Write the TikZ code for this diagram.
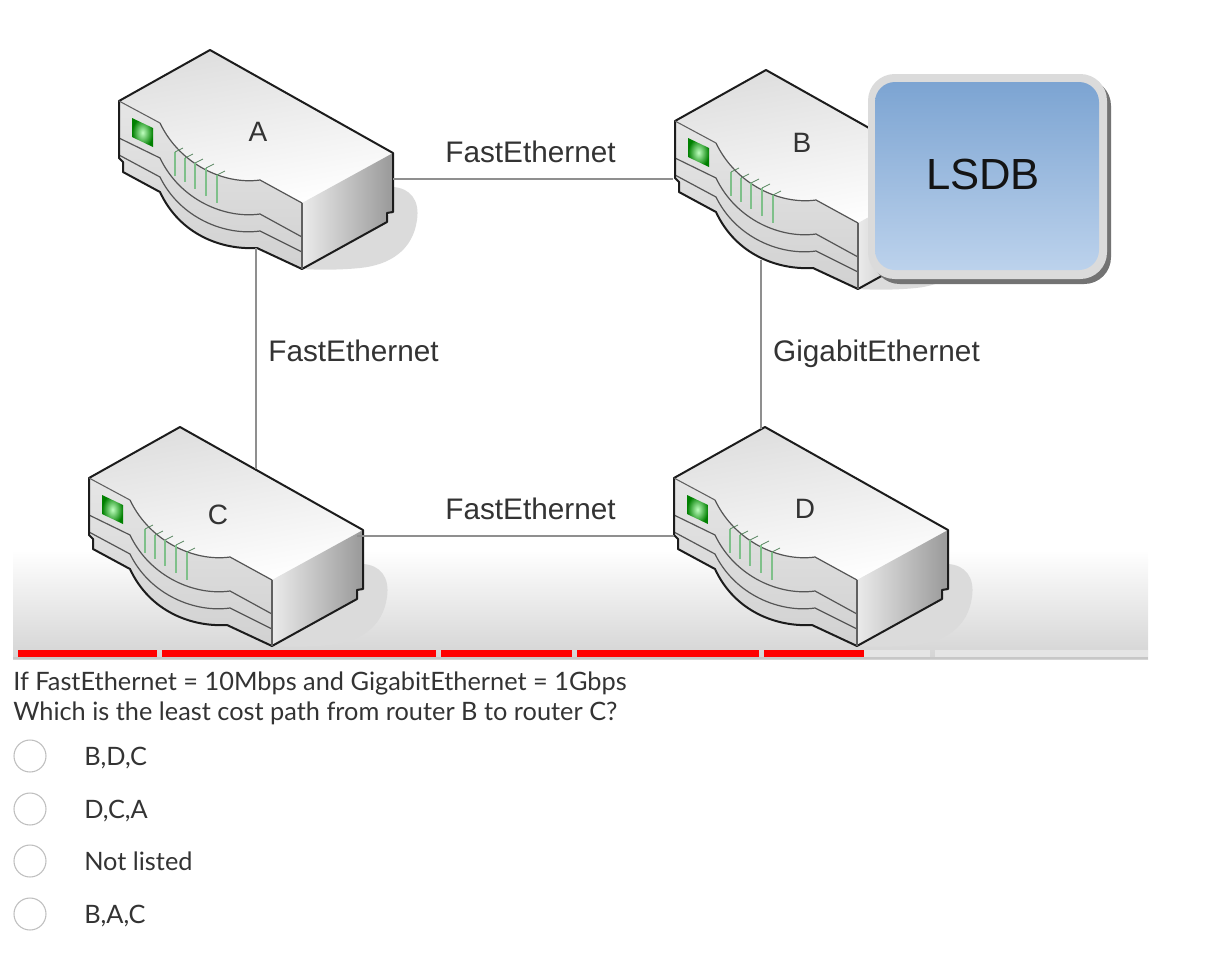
\documentclass[tikz,border=0pt]{standalone}
\usepackage{fontspec}
\setmainfont{Liberation Sans}
\newfontfamily\latofont{Lato}
\definecolor{edge}{HTML}{1C1C1C}
\definecolor{txt}{HTML}{333333}
\definecolor{wire}{HTML}{8F8F8F}
\definecolor{ledgreen}{HTML}{7FC08A}
\definecolor{lsdbtop}{HTML}{7CA4D2}
\definecolor{lsdbbot}{HTML}{BCD2EC}
\tikzset{
  x=0.75pt,y=-0.75pt,
  routeredge/.style={draw=edge,line width=1.5pt,line join=round},
  routerline/.style={draw=edge!75,line width=0.9pt},
  wireline/.style={draw=wire,line width=1pt},
  linklabel/.style={font=\fontsize{22.3}{26}\selectfont,text=black!80,inner sep=0pt,anchor=base},
  routerlabel/.style={font=\fontsize{21}{25}\selectfont,text=black!80,inner sep=0pt},
  question/.style={font=\latofont\fontsize{19}{24}\selectfont,text=txt,inner sep=0pt,anchor=base west},
  answer/.style={font=\latofont\fontsize{19}{24}\selectfont,text=txt,inner sep=0pt,anchor=base west},
  radiobtn/.style={circle,draw=black!25,fill=white,line width=0.8pt,minimum size=24pt,inner sep=0pt},
  barred/.style={fill=red,draw=none},
  bargrey/.style={fill=black!10,draw=none},
  router/.pic={
    % cast shadow
    \fill[black!14] (92,219) -- (183,162) -- (183,137)
       .. controls (200,138) and (210,150) .. (207,170)
       .. controls (203,200) and (180,215) .. (150,218)
       .. controls (130,220) and (110,220) .. (92,219) -- cycle;
    % top face
    \shade[top color=black!13,bottom color=white,shading angle=10]
       (0,0) -- (183,103) -- (92,153) -- (50,130)
       .. controls (15,135) and (-30,115) .. (-50,73) -- (-91,51) -- cycle;
    % front band
    \shade[top color=black!10,bottom color=black!18]
       (-91,51) -- (-50,73) .. controls (-30,115) and (15,135) .. (50,130)
       -- (92,153) -- (92,219) -- (47,198)
       .. controls (12,200) and (-30,185) .. (-50,142)
       -- (-87,122) -- (-87,112) -- (-91,108) -- cycle;
    % right face
    \shade[left color=black!8,right color=black!40]
       (92,153) -- (183,103) -- (183,162) -- (177,163) -- (177,172) -- (92,219) -- cycle;
    % band lines
    \draw[routerline] (-91,88) -- (-50,108) .. controls (-30,150) and (15,169) .. (50,164) -- (92,187);
    \draw[routerline] (-91,105) -- (-50,127) .. controls (-30,168) and (15,186) .. (50,181) -- (92,202);
    \draw[routerline] (-50,73) .. controls (-30,115) and (15,135) .. (50,130) -- (92,153);
    % led
    \shade[inner color=green!25!white,outer color=green!50!black]
       (-78,68) -- (-57,78) -- (-57,97) -- (-78,87) -- cycle;
    % port ticks
    \foreach \tx/\ty/\tl in {-35/102/24,-25/108/24,-15/113/26,-4/118/28,7/125/28}{
      \draw[ledgreen,line width=1pt] (\tx,\ty) -- ++(0,\tl);
      \draw[ledgreen!70!black,line width=.6pt] (\tx,\ty) -- ++(8,-4);
    }
    % outline
    \draw[routeredge] (-50,142) .. controls (-30,185) and (12,200) .. (47,198)
       -- (92,219) -- (177,172) -- (177,163) -- (183,162) -- (183,103) -- (0,0)
       -- (-91,51) -- (-91,108) -- (-87,112) -- (-87,122) -- cycle;
    \draw[draw=edge!70,line width=.8pt] (-91,51) -- (-50,73);
    \draw[draw=edge!70,line width=.8pt] (92,153) -- (92,219);
  }
}
\begin{document}
\begin{tikzpicture}
\useasboundingbox (0,0) rectangle (1232,954);
% video frame
\shade[top color=white,bottom color=black!17] (13,550) rectangle (1148,659);
% routers
\pic (rA) at (210,50) {router};
\pic (rB) at (766,70) {router};
\pic (rC) at (180,427) {router};
\pic (rD) at (765,427) {router};
% ports
\coordinate (Ae) at (393,179);
\coordinate (As) at (256,248);
\coordinate (Bw) at (673,179);
\coordinate (Bs) at (761,260);
\coordinate (Cn) at (256,469);
\coordinate (Ce) at (357,536);
\coordinate (Dn) at (761,429);
\coordinate (Dw) at (674,536);
% links
\draw[wireline] (Ae) -- (Bw);
\draw[wireline] (As) -- (Cn);
\draw[wireline] (Bs) -- (Dn);
\draw[wireline] (Ce) -- (Dw);
% router labels
\node[routerlabel] (A) at (258,132) {A};
\node[routerlabel] (B) at (802,143) {B};
\node[routerlabel] (C) at (218,515) {C};
\node[routerlabel] (D) at (805,509) {D};
% link labels
\node[linklabel] (ab) at (530.5,162.5) {FastEthernet};
\node[linklabel] (ac) at (353.5,361.5) {FastEthernet};
\node[linklabel] (bd) at (876.5,361.5) {GigabitEthernet};
\node[linklabel] (cd) at (530.5,519.5) {FastEthernet};
% LSDB
\fill[black!55,rounded corners=20pt] (873,79) rectangle (1111,284);
\fill[black!14,rounded corners=20pt] (868,74) rectangle (1107,279);
\shade[top color=lsdbtop,bottom color=lsdbbot,rounded corners=15pt] (875,82) rectangle (1099,270);
\node[font=\fontsize{32.7}{38}\selectfont,text=black!92,inner sep=0pt] (lsdb) at (983,174) {LSDB};
% progress bar
\fill[black!22] (13,657) rectangle (1148,659);
\fill[barred] (18,650) rectangle (157,657);
\fill[barred] (162,650) rectangle (436,657);
\fill[barred] (441,650) rectangle (572,657);
\fill[barred] (577,650) rectangle (759,657);
\fill[barred] (764,650) rectangle (864,657);
\fill[bargrey] (864,650) rectangle (930,657);
\fill[bargrey] (935,650) rectangle (1148,657);
% question
\node[question] (q1) at (13,690) {If FastEthernet = 10Mbps and GigabitEthernet = 1Gbps};
\node[question] (q2) at (13,720) {Which is the least cost path from router B to router C?};
\node[radiobtn] (r1) at (30,756) {};
\node[radiobtn] (r2) at (30,809) {};
\node[radiobtn] (r3) at (30,861) {};
\node[radiobtn] (r4) at (30,914) {};
\node[answer] (a1) at (84,765) {B,D,C};
\node[answer] (a2) at (84,818) {D,C,A};
\node[answer] (a3) at (84,870) {Not listed};
\node[answer] (a4) at (84,923) {B,A,C};
\end{tikzpicture}
\end{document}
